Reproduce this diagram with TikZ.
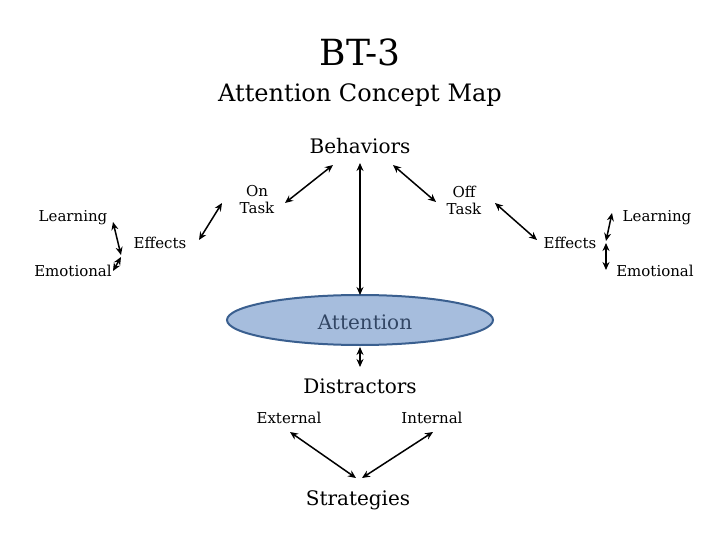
\documentclass[tikz,border=0pt]{standalone}
\usepackage{fontspec}
\setmainfont{DejaVu Serif}
\usetikzlibrary{arrows.meta,shapes.geometric}
\begin{document}
\begin{tikzpicture}[x=1pt,y=-1pt,
  lbl/.style={inner sep=0pt,align=center},
  conn/.style={{Stealth[length=8pt,width=7pt]}-{Stealth[length=8pt,width=7pt]},line width=1.5pt}]
\useasboundingbox (0,0) rectangle (720,540);
\node[lbl,font=\fontsize{36}{40}\selectfont] (title) at (360,52) {BT-3};
\node[lbl,font=\fontsize{24}{28}\selectfont] (sub) at (360,95) {Attention Concept Map};
\node[lbl,font=\fontsize{20}{24}\selectfont] (beh) at (360,146) {Behaviors};
\node[lbl,font=\fontsize{15}{17}\selectfont] (on) at (257,200) {On\\Task};
\node[lbl,font=\fontsize{15}{17}\selectfont] (off) at (464,200) {Off\\Task};
\node[lbl,font=\fontsize{15}{18}\selectfont] (ll) at (73,218) {Learning};
\node[lbl,font=\fontsize{15}{18}\selectfont] (le) at (73,271) {Emotional};
\node[lbl,font=\fontsize{15}{18}\selectfont] (lef) at (160,243) {Effects};
\node[lbl,font=\fontsize{15}{18}\selectfont] (rl) at (657,218) {Learning};
\node[lbl,font=\fontsize{15}{18}\selectfont] (ref) at (570,243) {Effects};
\node[lbl,font=\fontsize{15}{18}\selectfont] (re) at (655,271) {Emotional};
\node[ellipse,draw={rgb,255:red,58;green,95;blue,143},line width=2pt,fill={rgb,255:red,166;green,189;blue,221},
  minimum width=266pt,minimum height=50pt,inner sep=0pt] (att) at (360,320) {};
\node[lbl,font=\fontsize{20}{24}\selectfont,text={rgb,255:red,50;green,70;blue,100}] at (365,322) {Attention};
\node[lbl,font=\fontsize{20}{24}\selectfont] (dis) at (360,386) {Distractors};
\node[lbl,font=\fontsize{15}{18}\selectfont] (ext) at (289,418) {External};
\node[lbl,font=\fontsize{15}{18}\selectfont] (int) at (432,418) {Internal};
\node[lbl,font=\fontsize{20}{24}\selectfont] (str) at (358,500) {Strategies};
\coordinate (b1) at (333,165); \coordinate (o1) at (285,203);
\coordinate (b2) at (393,165); \coordinate (f1) at (436,202);
\coordinate (b3) at (360,163); \coordinate (a1) at (360,295);
\coordinate (o2) at (222,203); \coordinate (e1) at (199,240);
\coordinate (f2) at (495,203); \coordinate (e2) at (537,240);
\coordinate (l1) at (113,222); \coordinate (l2) at (121,255);
\coordinate (l3) at (121,257); \coordinate (l4) at (113,271);
\coordinate (r1) at (612,213); \coordinate (r2) at (606,241);
\coordinate (r3) at (606,243); \coordinate (r4) at (606,270);
\coordinate (a2) at (360,347); \coordinate (d1) at (360,367);
\coordinate (x1) at (290,432); \coordinate (s1) at (356,478);
\coordinate (i1) at (433,432); \coordinate (s2) at (362,478);
\draw[conn] (b1)--(o1); \draw[conn] (b2)--(f1); \draw[conn] (b3)--(a1);
\draw[conn] (o2)--(e1); \draw[conn] (f2)--(e2);
\draw[conn] (l1)--(l2); \draw[conn] (l3)--(l4);
\draw[conn] (r1)--(r2); \draw[conn] (r3)--(r4);
\draw[conn] (a2)--(d1); \draw[conn] (x1)--(s1); \draw[conn] (i1)--(s2);
\end{tikzpicture}
\end{document}
